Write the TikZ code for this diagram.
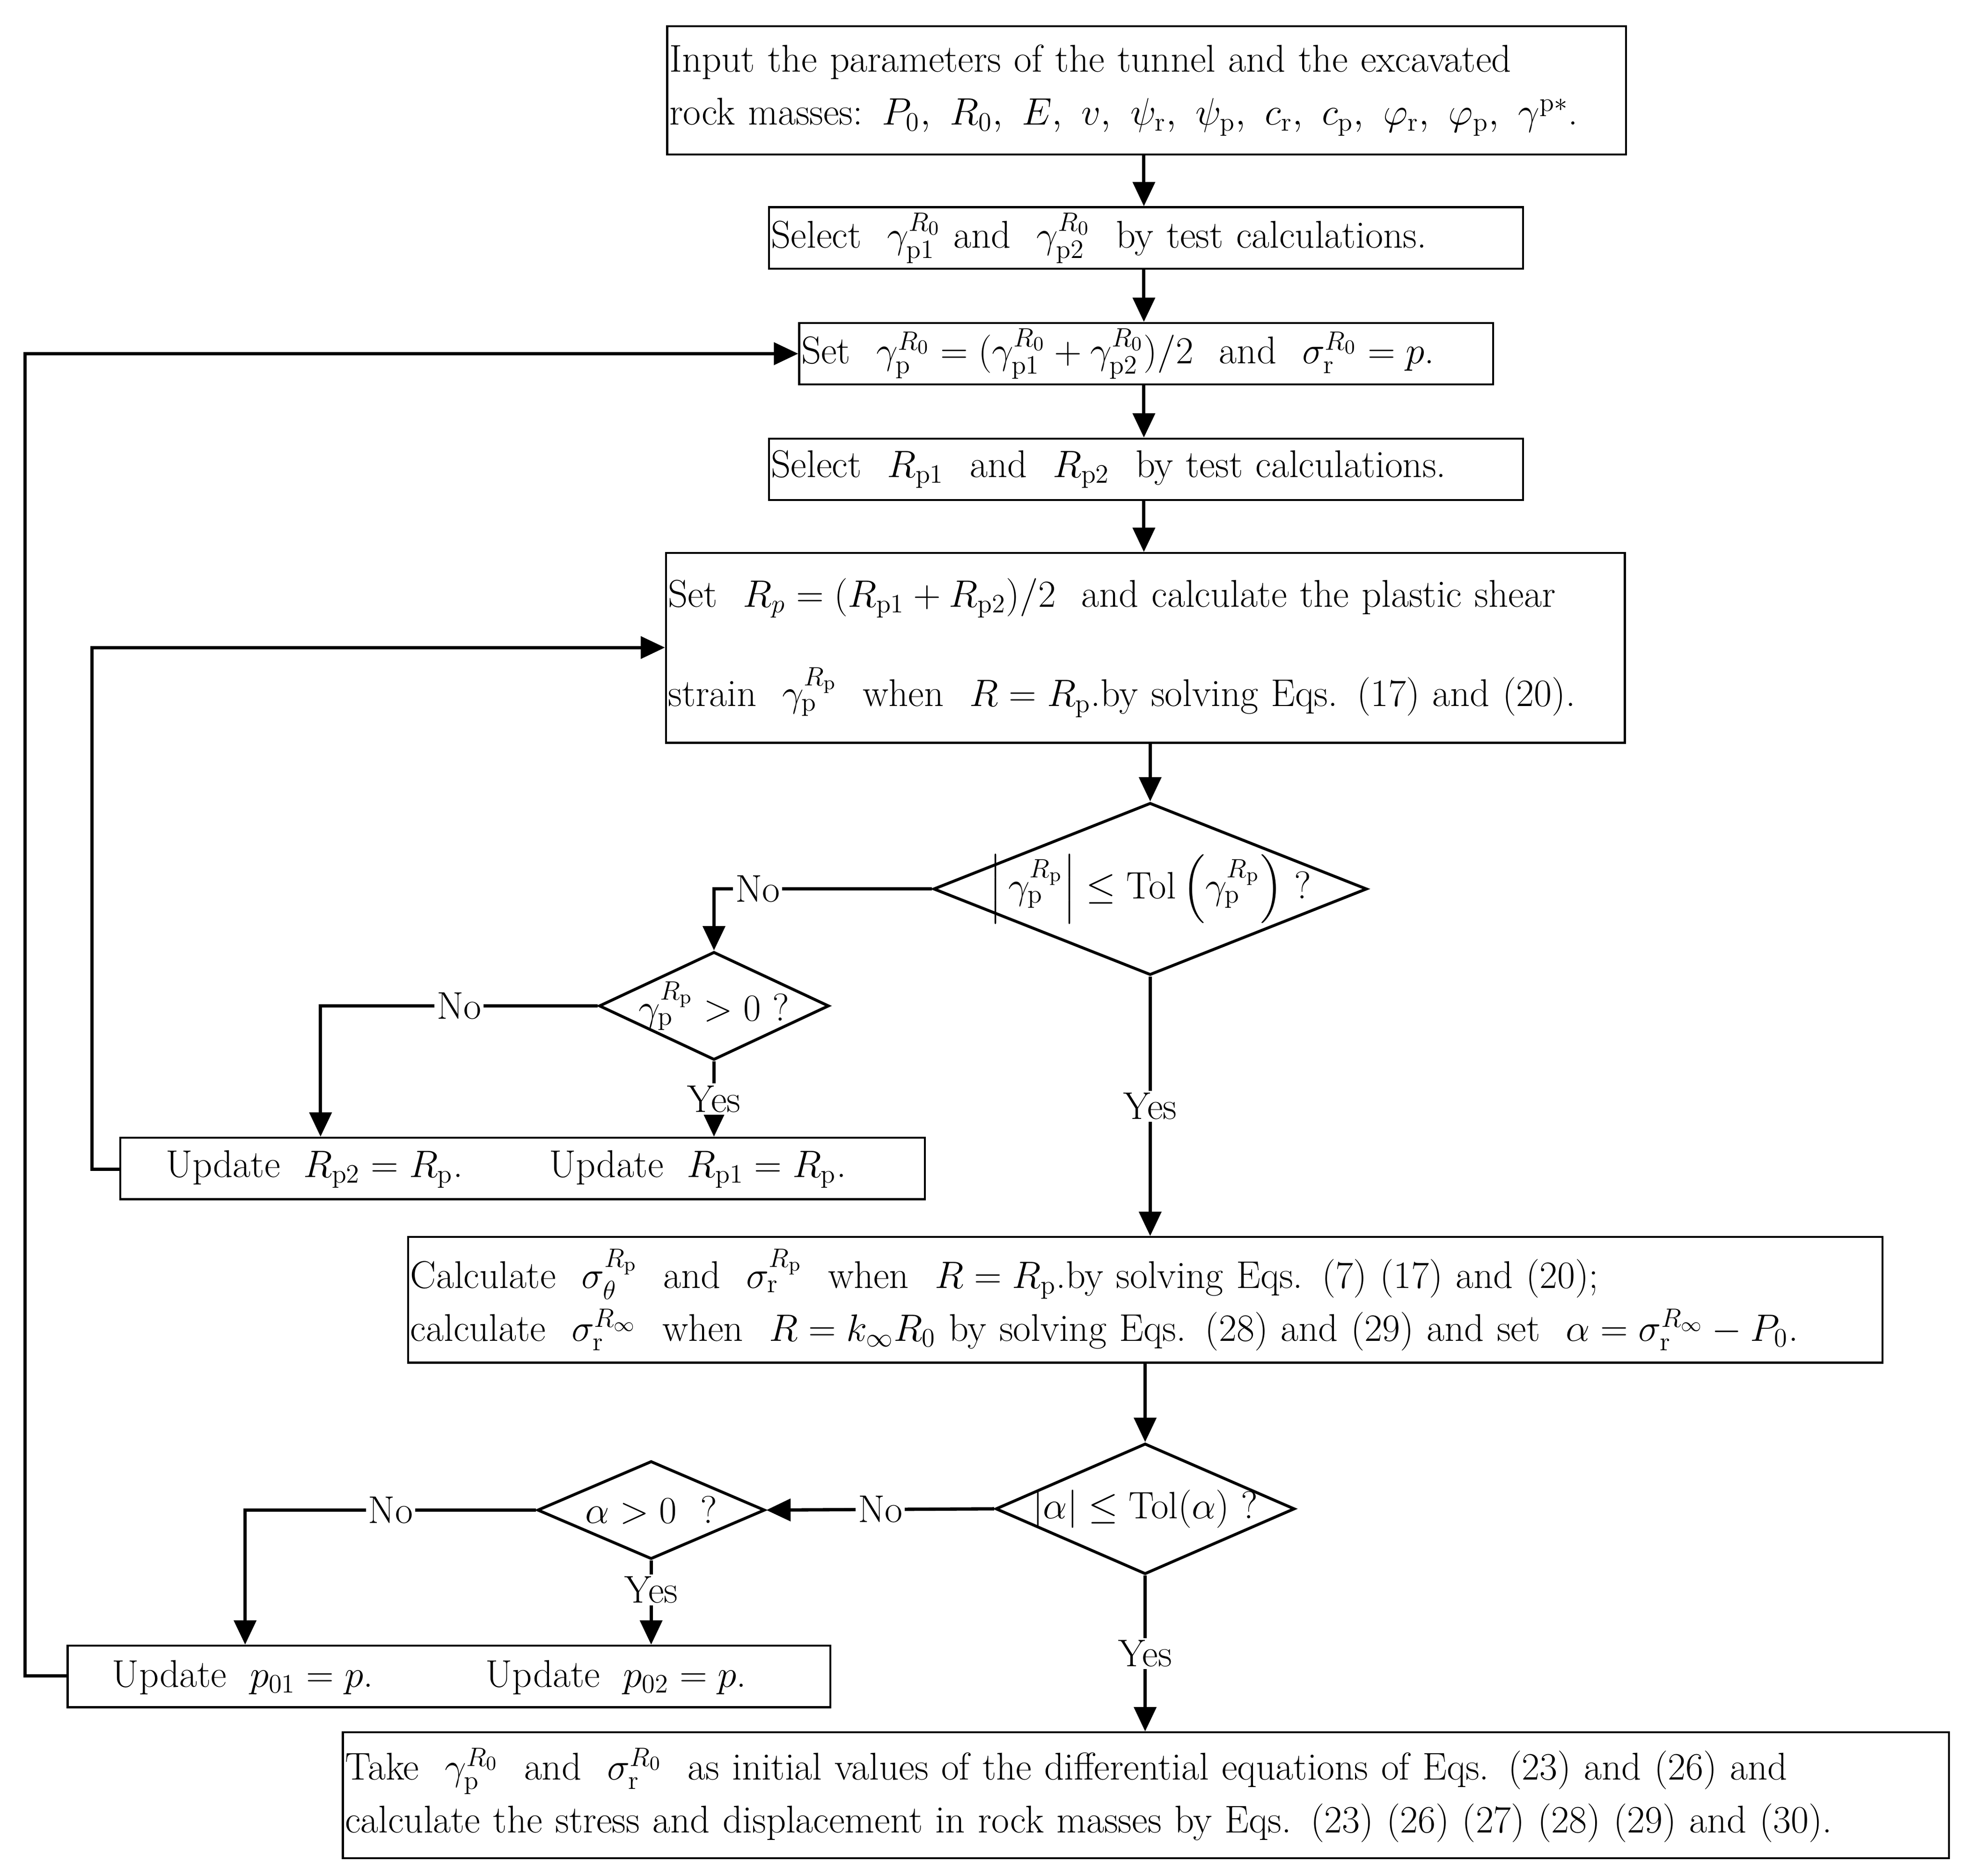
\documentclass[tikz,border=0pt]{standalone}
\usepackage{amsmath}
\usetikzlibrary{shapes.geometric,arrows.meta}
\begin{document}
\begin{tikzpicture}[x=0.02cm,y=-0.02cm,
  font=\fontsize{17.5}{21}\selectfont,
  box/.style={draw,line width=0.9pt,inner xsep=1pt,inner ysep=0pt,align=left,anchor=north west},
  dia/.style={draw,diamond,line width=1.3pt,inner sep=0pt},
  ln/.style={line width=1.5pt},
  arr/.style={line width=1.5pt,-{Triangle[length=11pt,width=10pt]}},
  lab/.style={fill=white,inner sep=1pt}]
\useasboundingbox (0,0) rectangle (1568,1492);
\node[box,text width=15.26cm-2pt,minimum height=2.04cm] (b1) at (530,20)
 {Input the parameters of the tunnel and the excavated\\[3pt]
  rock masses: $P_0,\ R_0,\ E,\ v,\ \psi_\mathrm{r},\ \psi_\mathrm{p},\ c_\mathrm{r},\ c_\mathrm{p},\ \varphi_\mathrm{r},\ \varphi_\mathrm{p},\ \gamma^{\mathrm{p}*}$.};
\node[box,text width=12cm-2pt,minimum height=0.98cm] (b2) at (611,164)
 {Select\ \ $\gamma_\mathrm{p1}^{R_0}$ and\ \ $\gamma_\mathrm{p2}^{R_0}$\ \ by test calculations.};
\node[box,text width=11.04cm-2pt,minimum height=0.98cm] (b3) at (635,256)
 {Set\ \ $\gamma_\mathrm{p}^{R_0}=(\gamma_\mathrm{p1}^{R_0}+\gamma_\mathrm{p2}^{R_0})/2$\ \ and\ \ $\sigma_\mathrm{r}^{R_0}=p$.};
\node[box,text width=12cm-2pt,minimum height=0.98cm] (b4) at (611,348)
 {Select\ \ $R_\mathrm{p1}$\ \ and\ \ $R_\mathrm{p2}$\ \ by test calculations.};
\node[box,text width=15.26cm-2pt,minimum height=3.02cm] (b5) at (529,439)
 {Set\ \ $R_p=(R_\mathrm{p1}+R_\mathrm{p2})/2$\ \ and calculate the plastic shear\\[0.75cm]
  strain\ \ $\gamma_\mathrm{p}^{R_\mathrm{p}}$\ \ when\ \ $R=R_\mathrm{p}$.by solving Eqs. (17) and (20).};
\node[dia,minimum width=6.9cm,minimum height=2.74cm] (d1) at (915,707) {};
\node at (d1) {$\left|\,\gamma_\mathrm{p}^{R_\mathrm{p}}\right|\le\mathrm{Tol}\left(\gamma_\mathrm{p}^{R_\mathrm{p}}\right)$ ?};
\node[dia,minimum width=3.66cm,minimum height=1.72cm] (d2) at (568,800) {};
\node at (d2) {$\gamma_\mathrm{p}^{R_\mathrm{p}}>0$ ?};
\node[box,minimum width=12.8cm,minimum height=0.98cm] (b6) at (95,904) {};
\node at (250,930) {Update\ \ $R_\mathrm{p2}=R_\mathrm{p}$.};
\node at (555,930) {Update\ \ $R_\mathrm{p1}=R_\mathrm{p}$.};
\node[box,text width=23.46cm-2pt,minimum height=2cm] (b7) at (324,983)
 {Calculate\ \ $\sigma_\mathrm{\theta}^{R_\mathrm{p}}$\ \ and\ \ $\sigma_\mathrm{r}^{R_\mathrm{p}}$\ \ when\ \ $R=R_\mathrm{p}$.by solving Eqs. (7) (17) and (20);\\[3pt]
  calculate\ \ $\sigma_\mathrm{r}^{R_\infty}$\ \ when\ \ $R=k_\infty R_0$ by solving Eqs. (28) and (29) and set\ \ $\alpha=\sigma_\mathrm{r}^{R_\infty}-P_0$.};
\node[dia,minimum width=4.76cm,minimum height=2.08cm] (d3) at (911,1200) {};
\node at (d3) {$|\alpha|\le\mathrm{Tol}(\alpha)$ ?};
\node[dia,minimum width=3.62cm,minimum height=1.56cm] (d4) at (518,1201) {};
\node at (d4) {$\alpha>0$\ \ ?};
\node[box,minimum width=12.14cm,minimum height=0.98cm] (b8) at (53,1308) {};
\node at (193,1334) {Update\ \ $p_{01}=p$.};
\node at (490,1334) {Update\ \ $p_{02}=p$.};
\node[box,text width=25.56cm-2pt,minimum height=2cm] (b9) at (272,1377)
 {Take\ \ $\gamma_\mathrm{p}^{R_0}$\ \ and\ \ $\sigma_\mathrm{r}^{R_0}$\ \ as initial values of the differential equations of Eqs. (23) and (26) and\\[3pt]
  calculate the stress and displacement in rock masses by Eqs. (23) (26) (27) (28) (29) and (30).};
\coordinate (c1) at (73,930);
\coordinate (c2) at (20,1333);
% connectors
\draw[arr] (910,122) -- (910,164);
\draw[arr] (910,213) -- (910,256);
\draw[arr] (910,305) -- (910,348);
\draw[arr] (910,397) -- (910,439);
\draw[arr] (d1.north |- b5.south) -- (d1.north);
\draw[arr] (d1.west) -| (d2.north) node[pos=0.4,lab] {No};
\draw[arr] (d2.west) -| (255,904) node[pos=0.25,lab] {No};
\draw[arr] (d2.south) -- (d2.south |- b6.north) node[midway,lab] {Yes};
\draw[arr] (d1.south) -- (d1.south |- b7.north) node[pos=0.5,lab] {Yes};
\draw[arr] (b6.west |- c1) -- (c1) |- (529,515);
\draw[arr] (d3.north |- b7.south) -- (d3.north);
\draw[arr] (d3.west) -- (d4.east) node[midway,lab] {No};
\draw[arr] (d4.west) -| (195,1308) node[pos=0.25,lab] {No};
\draw[arr] (d4.south) -- (d4.south |- b8.north) node[pos=0.35,lab] {Yes};
\draw[arr] (d3.south) -- (d3.south |- b9.north) node[pos=0.5,lab] {Yes};
\draw[arr] (b8.west |- c2) -- (c2) |- (b3.west);
\end{tikzpicture}
\end{document}
